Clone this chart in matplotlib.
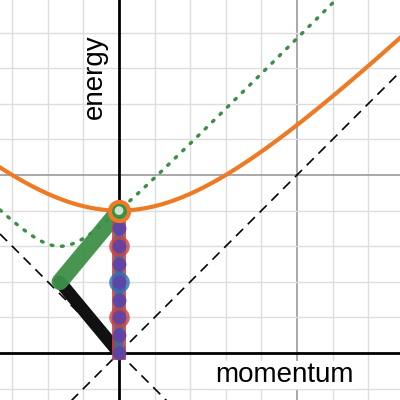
import numpy as np
import matplotlib
matplotlib.use("Agg")
import matplotlib.pyplot as plt

mass = 4.0
p_black = -1.66
e_black = 2.0
dot_k, dot_c, dot_b2 = 2.12, -1.66, 0.77
red_E = [1.0, 3.0]
blue_E = [2.0]
purple_E = [0, 0.5, 1, 1.5, 2, 2.5, 3, 3.5]

fig = plt.figure(figsize=(4, 4), dpi=100)
ax = fig.add_axes([0, 0, 1, 1])
xmin, xmax = -119/35.6, 281/35.6
ymin, ymax = -47/35.6, 353/35.6
ax.set_xlim(xmin, xmax); ax.set_ylim(ymin, ymax)
ax.axis('off')
for g in np.arange(-3, 8):
    ax.axvline(g, color='#999999' if g == 5 else '#dddddd', lw=1.2 if g == 5 else 1, zorder=0)
for g in np.arange(-1, 10):
    ax.axhline(g, color='#999999' if g == 5 else '#dddddd', lw=1.2 if g == 5 else 1, zorder=0)
ax.axvline(0, color='black', lw=2, zorder=1)
ax.axhline(0, color='black', lw=2, zorder=1)

t = np.linspace(xmin, xmax, 400)
ax.plot(t, t, 'k--', lw=1.2, dashes=(6, 4))
ax.plot(t, -t, 'k--', lw=1.2, dashes=(6, 4))
ax.plot(t, np.sqrt(t**2 + mass**2), color='#ed7a25', lw=3, zorder=3)
ax.plot(t, dot_k + np.sqrt((t - dot_c)**2 + dot_b2), color='#3d8f48', lw=2.5,
        ls=(0, (0.5, 2.5)), dash_capstyle='round', zorder=2)

ax.plot([0, p_black], [0, e_black], color='#111111', lw=9, solid_capstyle='round', zorder=4)
ax.plot([p_black, 0], [e_black, mass], color='#3d8f48', lw=12, solid_capstyle='round', alpha=0.95, zorder=5)
ax.plot([0, 0], [0, mass], color='#c74440', lw=10, alpha=0.9, zorder=6)
ax.plot([0, 0], [0, mass], color='#2d70b3', lw=6, alpha=0.85, zorder=7)
ax.scatter([0]*len(red_E), red_E, s=220, color='#c74440', alpha=0.8, zorder=8, lw=0)
ax.scatter([0]*len(blue_E), blue_E, s=220, color='#2d70b3', alpha=0.8, zorder=8, lw=0)
ax.scatter([0]*len(purple_E), purple_E, s=100, color='#6042a6', alpha=0.9, zorder=9, lw=0)
ax.scatter([0], [mass], s=190, facecolor='#3d8f48', edgecolor='#ed7a25', lw=3, zorder=10)
ax.scatter([0], [mass], s=40, facecolor='#cfe3d1', edgecolor='none', zorder=11)

font = ['Liberation Sans', 'DejaVu Sans']
ax.text(-0.68, 7.75, 'energy', rotation=90, fontsize=20, ha='center', va='center', family=font)
ax.text(4.65, -0.62, 'momentum', fontsize=20, ha='center', va='center', family=font,
        bbox=dict(facecolor='white', edgecolor='none', pad=0.5))
fig.savefig('out.png', dpi=100)
